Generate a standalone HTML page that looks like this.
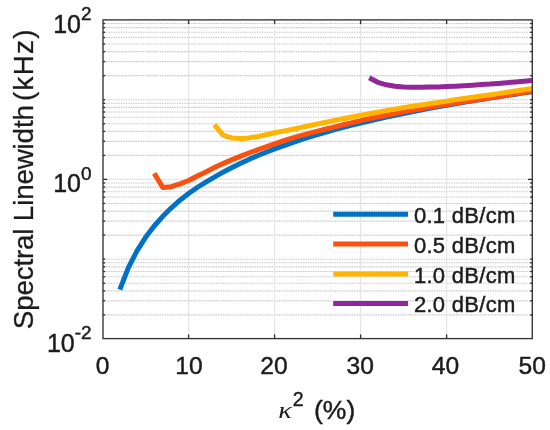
<!DOCTYPE html>
<html lang="en"><head><meta charset="utf-8"><title>Spectral Linewidth vs coupling</title>
<style>html,body{margin:0;padding:0;background:#fff;}body{width:550px;height:430px;overflow:hidden;}svg{display:block;}</style></head>
<body>
<svg width="550" height="430" viewBox="0 0 550 430">
<rect width="550" height="430" fill="#fff"/>
<g stroke="#bababa" stroke-width="1.05" stroke-dasharray="0.85 0.85" fill="none">
<line x1="104" y1="314.89" x2="531.5" y2="314.89"/>
<line x1="104" y1="300.85" x2="531.5" y2="300.85"/>
<line x1="104" y1="290.89" x2="531.5" y2="290.89"/>
<line x1="104" y1="283.16" x2="531.5" y2="283.16"/>
<line x1="104" y1="276.84" x2="531.5" y2="276.84"/>
<line x1="104" y1="271.50" x2="531.5" y2="271.50"/>
<line x1="104" y1="266.88" x2="531.5" y2="266.88"/>
<line x1="104" y1="262.80" x2="531.5" y2="262.80"/>
<line x1="104" y1="259.15" x2="531.5" y2="259.15"/>
<line x1="104" y1="235.14" x2="531.5" y2="235.14"/>
<line x1="104" y1="221.10" x2="531.5" y2="221.10"/>
<line x1="104" y1="211.14" x2="531.5" y2="211.14"/>
<line x1="104" y1="203.41" x2="531.5" y2="203.41"/>
<line x1="104" y1="197.09" x2="531.5" y2="197.09"/>
<line x1="104" y1="191.75" x2="531.5" y2="191.75"/>
<line x1="104" y1="187.13" x2="531.5" y2="187.13"/>
<line x1="104" y1="183.05" x2="531.5" y2="183.05"/>
<line x1="104" y1="155.39" x2="531.5" y2="155.39"/>
<line x1="104" y1="141.35" x2="531.5" y2="141.35"/>
<line x1="104" y1="131.39" x2="531.5" y2="131.39"/>
<line x1="104" y1="123.66" x2="531.5" y2="123.66"/>
<line x1="104" y1="117.34" x2="531.5" y2="117.34"/>
<line x1="104" y1="112.00" x2="531.5" y2="112.00"/>
<line x1="104" y1="107.38" x2="531.5" y2="107.38"/>
<line x1="104" y1="103.30" x2="531.5" y2="103.30"/>
<line x1="104" y1="99.65" x2="531.5" y2="99.65"/>
<line x1="104" y1="75.64" x2="531.5" y2="75.64"/>
<line x1="104" y1="61.60" x2="531.5" y2="61.60"/>
<line x1="104" y1="51.64" x2="531.5" y2="51.64"/>
<line x1="104" y1="43.91" x2="531.5" y2="43.91"/>
<line x1="104" y1="37.59" x2="531.5" y2="37.59"/>
<line x1="104" y1="32.25" x2="531.5" y2="32.25"/>
<line x1="104" y1="27.63" x2="531.5" y2="27.63"/>
<line x1="104" y1="23.55" x2="531.5" y2="23.55"/>
</g>
<g stroke="#e5e5e5" stroke-width="1.2" fill="none">
<line x1="188.6" y1="19.9" x2="188.6" y2="338.6"/>
<line x1="274.6" y1="19.9" x2="274.6" y2="338.6"/>
<line x1="360.6" y1="19.9" x2="360.6" y2="338.6"/>
<line x1="446.6" y1="19.9" x2="446.6" y2="338.6"/>
<line x1="103.0" y1="179.4" x2="532.3" y2="179.4"/>
</g>
<clipPath id="c"><rect x="103.0" y="19.9" width="429.3" height="318.7"/></clipPath>
<g clip-path="url(#c)" fill="none" stroke-width="5" stroke-linejoin="round" stroke-linecap="butt">
<polyline stroke="#0071C6" points="119.8,289.7 128.4,267.6 137.0,250.8 145.6,237.3 154.2,226.0 162.8,216.3 171.4,207.8 180.0,200.2 188.6,193.5 197.2,187.5 205.8,182.1 214.4,177.1 223.0,172.2 231.6,167.7 240.2,163.4 248.8,159.4 257.4,155.7 266.0,152.2 274.6,148.9 283.2,145.8 291.8,142.8 300.4,139.9 309.0,137.2 317.6,134.6 326.2,132.1 334.8,129.7 343.4,127.4 352.0,125.2 360.6,123.1 369.2,121.0 377.8,119.0 386.4,117.1 395.0,115.3 403.6,113.5 412.2,111.7 420.8,110.0 429.4,108.4 438.0,106.8 446.6,105.3 455.2,103.8 463.8,102.3 472.4,100.9 481.0,99.5 489.6,98.1 498.2,96.8 506.8,95.5 515.4,94.2 524.0,92.9 532.6,91.7"/>
<polyline stroke="#FB500F" points="154.2,173.4 162.8,187.5 171.4,186.7 180.0,183.8 188.6,180.5 197.2,176.1 205.8,171.9 214.4,167.6 223.0,163.6 231.6,159.9 240.2,156.4 248.8,153.0 257.4,149.8 266.0,146.8 274.6,143.8 283.2,140.9 291.8,138.1 300.4,135.7 309.0,133.4 317.6,131.2 326.2,129.0 334.8,126.8 343.4,124.7 352.0,122.6 360.6,120.6 369.2,118.7 377.8,117.0 386.4,115.3 395.0,113.6 403.6,111.9 412.2,110.4 420.8,108.8 429.4,107.3 438.0,105.9 446.6,104.5 455.2,103.1 463.8,101.8 472.4,100.5 481.0,99.2 489.6,98.0 498.2,96.6 506.8,95.2 515.4,93.9 524.0,92.6 532.6,91.3"/>
<polyline stroke="#FFB400" points="214.4,124.7 223.0,135.2 231.6,137.9 240.2,138.6 248.8,137.9 257.4,136.6 266.0,134.8 274.6,132.8 283.2,131.1 291.8,129.5 300.4,127.6 309.0,125.7 317.6,123.9 326.2,122.2 334.8,120.4 343.4,118.7 352.0,117.0 360.6,115.4 369.2,113.8 377.8,112.2 386.4,110.6 395.0,109.1 403.6,107.6 412.2,106.3 420.8,105.0 429.4,103.7 438.0,102.5 446.6,101.1 455.2,99.8 463.8,98.6 472.4,97.3 481.0,96.1 489.6,94.9 498.2,93.6 506.8,92.3 515.4,91.0 524.0,89.8 532.6,88.6"/>
<polyline stroke="#92279A" points="369.2,77.7 377.8,82.3 386.4,84.8 395.0,86.2 403.6,86.9 412.2,87.3 420.8,87.3 429.4,87.1 438.0,86.9 446.6,86.6 455.2,86.2 463.8,85.7 472.4,85.2 481.0,84.6 489.6,84.1 498.2,83.4 506.8,82.7 515.4,82.0 524.0,81.3 532.6,80.6"/>
</g>
<g stroke-width="5" fill="none">
<line stroke="#0071C6" x1="333.2" y1="214.3" x2="408" y2="214.3"/>
<line stroke="#FB500F" x1="333.2" y1="244.1" x2="408" y2="244.1"/>
<line stroke="#FFB400" x1="333.2" y1="273.9" x2="408" y2="273.9"/>
<line stroke="#92279A" x1="333.2" y1="303.5" x2="408" y2="303.5"/>
</g>
<g stroke="#333" stroke-width="1.35" fill="none">
<rect x="103.0" y="19.9" width="429.3" height="318.7"/>
<line x1="188.6" y1="338.6" x2="188.6" y2="334.4"/>
<line x1="188.6" y1="19.9" x2="188.6" y2="24.1"/>
<line x1="274.6" y1="338.6" x2="274.6" y2="334.4"/>
<line x1="274.6" y1="19.9" x2="274.6" y2="24.1"/>
<line x1="360.6" y1="338.6" x2="360.6" y2="334.4"/>
<line x1="360.6" y1="19.9" x2="360.6" y2="24.1"/>
<line x1="446.6" y1="338.6" x2="446.6" y2="334.4"/>
<line x1="446.6" y1="19.9" x2="446.6" y2="24.1"/>
<line x1="103.0" y1="179.4" x2="107.2" y2="179.4"/>
<line x1="532.3" y1="179.4" x2="528.1" y2="179.4"/>
<line x1="103.0" y1="314.9" x2="105.2" y2="314.9"/>
<line x1="532.3" y1="314.9" x2="530.1" y2="314.9"/>
<line x1="103.0" y1="300.8" x2="105.2" y2="300.8"/>
<line x1="532.3" y1="300.8" x2="530.1" y2="300.8"/>
<line x1="103.0" y1="290.9" x2="105.2" y2="290.9"/>
<line x1="532.3" y1="290.9" x2="530.1" y2="290.9"/>
<line x1="103.0" y1="283.2" x2="105.2" y2="283.2"/>
<line x1="532.3" y1="283.2" x2="530.1" y2="283.2"/>
<line x1="103.0" y1="276.8" x2="105.2" y2="276.8"/>
<line x1="532.3" y1="276.8" x2="530.1" y2="276.8"/>
<line x1="103.0" y1="271.5" x2="105.2" y2="271.5"/>
<line x1="532.3" y1="271.5" x2="530.1" y2="271.5"/>
<line x1="103.0" y1="266.9" x2="105.2" y2="266.9"/>
<line x1="532.3" y1="266.9" x2="530.1" y2="266.9"/>
<line x1="103.0" y1="262.8" x2="105.2" y2="262.8"/>
<line x1="532.3" y1="262.8" x2="530.1" y2="262.8"/>
<line x1="103.0" y1="259.1" x2="105.2" y2="259.1"/>
<line x1="532.3" y1="259.1" x2="530.1" y2="259.1"/>
<line x1="103.0" y1="235.1" x2="105.2" y2="235.1"/>
<line x1="532.3" y1="235.1" x2="530.1" y2="235.1"/>
<line x1="103.0" y1="221.1" x2="105.2" y2="221.1"/>
<line x1="532.3" y1="221.1" x2="530.1" y2="221.1"/>
<line x1="103.0" y1="211.1" x2="105.2" y2="211.1"/>
<line x1="532.3" y1="211.1" x2="530.1" y2="211.1"/>
<line x1="103.0" y1="203.4" x2="105.2" y2="203.4"/>
<line x1="532.3" y1="203.4" x2="530.1" y2="203.4"/>
<line x1="103.0" y1="197.1" x2="105.2" y2="197.1"/>
<line x1="532.3" y1="197.1" x2="530.1" y2="197.1"/>
<line x1="103.0" y1="191.8" x2="105.2" y2="191.8"/>
<line x1="532.3" y1="191.8" x2="530.1" y2="191.8"/>
<line x1="103.0" y1="187.1" x2="105.2" y2="187.1"/>
<line x1="532.3" y1="187.1" x2="530.1" y2="187.1"/>
<line x1="103.0" y1="183.0" x2="105.2" y2="183.0"/>
<line x1="532.3" y1="183.0" x2="530.1" y2="183.0"/>
<line x1="103.0" y1="155.4" x2="105.2" y2="155.4"/>
<line x1="532.3" y1="155.4" x2="530.1" y2="155.4"/>
<line x1="103.0" y1="141.3" x2="105.2" y2="141.3"/>
<line x1="532.3" y1="141.3" x2="530.1" y2="141.3"/>
<line x1="103.0" y1="131.4" x2="105.2" y2="131.4"/>
<line x1="532.3" y1="131.4" x2="530.1" y2="131.4"/>
<line x1="103.0" y1="123.7" x2="105.2" y2="123.7"/>
<line x1="532.3" y1="123.7" x2="530.1" y2="123.7"/>
<line x1="103.0" y1="117.3" x2="105.2" y2="117.3"/>
<line x1="532.3" y1="117.3" x2="530.1" y2="117.3"/>
<line x1="103.0" y1="112.0" x2="105.2" y2="112.0"/>
<line x1="532.3" y1="112.0" x2="530.1" y2="112.0"/>
<line x1="103.0" y1="107.4" x2="105.2" y2="107.4"/>
<line x1="532.3" y1="107.4" x2="530.1" y2="107.4"/>
<line x1="103.0" y1="103.3" x2="105.2" y2="103.3"/>
<line x1="532.3" y1="103.3" x2="530.1" y2="103.3"/>
<line x1="103.0" y1="99.7" x2="105.2" y2="99.7"/>
<line x1="532.3" y1="99.7" x2="530.1" y2="99.7"/>
<line x1="103.0" y1="75.6" x2="105.2" y2="75.6"/>
<line x1="532.3" y1="75.6" x2="530.1" y2="75.6"/>
<line x1="103.0" y1="61.6" x2="105.2" y2="61.6"/>
<line x1="532.3" y1="61.6" x2="530.1" y2="61.6"/>
<line x1="103.0" y1="51.6" x2="105.2" y2="51.6"/>
<line x1="532.3" y1="51.6" x2="530.1" y2="51.6"/>
<line x1="103.0" y1="43.9" x2="105.2" y2="43.9"/>
<line x1="532.3" y1="43.9" x2="530.1" y2="43.9"/>
<line x1="103.0" y1="37.6" x2="105.2" y2="37.6"/>
<line x1="532.3" y1="37.6" x2="530.1" y2="37.6"/>
<line x1="103.0" y1="32.3" x2="105.2" y2="32.3"/>
<line x1="532.3" y1="32.3" x2="530.1" y2="32.3"/>
<line x1="103.0" y1="27.6" x2="105.2" y2="27.6"/>
<line x1="532.3" y1="27.6" x2="530.1" y2="27.6"/>
<line x1="103.0" y1="23.5" x2="105.2" y2="23.5"/>
<line x1="532.3" y1="23.5" x2="530.1" y2="23.5"/>
</g>
<g fill="#1c1c1c" stroke="#1c1c1c" stroke-width="0.45" font-family="'Liberation Sans', sans-serif">
<text x="102.7" y="374" font-size="24.6" text-anchor="middle">0</text>
<text x="189.0" y="374" font-size="24.6" text-anchor="middle">10</text>
<text x="273.9" y="374" font-size="24.6" text-anchor="middle">20</text>
<text x="360.3" y="374" font-size="24.6" text-anchor="middle">30</text>
<text x="445.4" y="374" font-size="24.6" text-anchor="middle">40</text>
<text x="532.3" y="374" font-size="24.6" text-anchor="middle">50</text>
<text x="91.6" y="32.8" font-size="25" text-anchor="end">10<tspan font-size="19" dy="-12.4">2</tspan></text>
<text x="91.6" y="192.3" font-size="25" text-anchor="end">10<tspan font-size="19" dy="-12.4">0</tspan></text>
<text x="91.6" y="351.8" font-size="25" text-anchor="end">10<tspan font-size="19" dy="-12.4">-2</tspan></text>
<text x="413.9" y="222.9" font-size="22" letter-spacing="0.3">0.1 dB/cm</text>
<text x="413.9" y="252.7" font-size="22" letter-spacing="0.3">0.5 dB/cm</text>
<text x="413.9" y="282.5" font-size="22" letter-spacing="0.3">1.0 dB/cm</text>
<text x="413.9" y="312.1" font-size="22" letter-spacing="0.3">2.0 dB/cm</text>
<text transform="translate(32.5,329.2) rotate(-90)" font-size="27.8" stroke-width="0.3" letter-spacing="-0.18">Spectral Linewidth <tspan dx="-3.25" letter-spacing="1.25">(kHz)</tspan></text>
<text transform="translate(278.2,418.2) scale(1.22,1)" font-size="23.5" font-style="italic" stroke-width="0" font-family="'Liberation Serif', 'DejaVu Serif', serif">κ</text>
<text x="292.8" y="406" font-size="19.5">2</text>
<text x="314" y="418.5" font-size="26.5">(%)</text>
</g>
</svg>
</body></html>
